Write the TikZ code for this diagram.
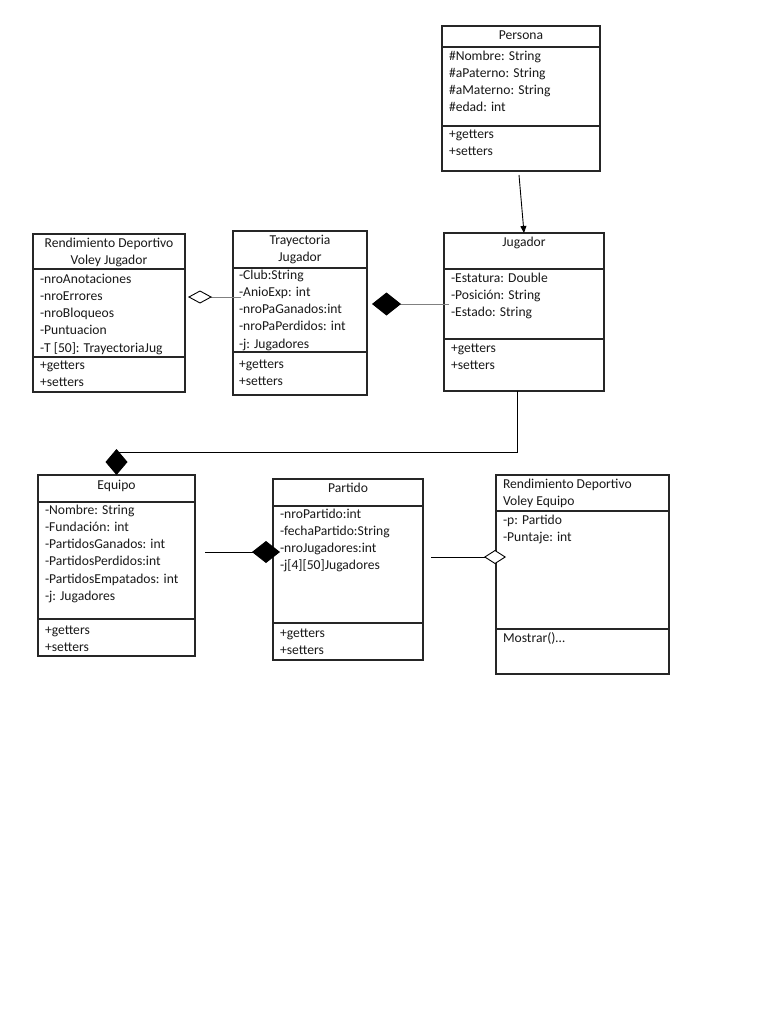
\documentclass[tikz,border=0pt]{standalone}
\usepackage{fontspec}
\setmainfont{Carlito}
\usetikzlibrary{arrows.meta}
\begin{document}
\begin{tikzpicture}[x=1pt,y=-1pt,
  umlbox/.style={draw=black!85, line width=1.1pt, inner sep=0pt, outer sep=0pt, anchor=north west},
  txt/.style={inner sep=0pt, outer sep=0pt, align=left, anchor=north west, font=\fontsize{13.6}{17.3}\selectfont, text=black!90},
  ttl/.style={txt, align=center, anchor=north},
  sepline/.style={draw=black!85, line width=1.1pt},
  conn/.style={draw=black, line width=0.9pt},
  gconn/.style={draw=black!50, line width=0.9pt},
  comp/.style={-{Diamond[color=black, fill=black, #1]}},
  aggr/.style={-{Diamond[open, color=black, fill=white, line width=0.9pt, #1]}},
]
\fill[white] (0,0) rectangle (768,1024);
\useasboundingbox (0,0) rectangle (768,1024);

% ---------- Persona ----------
\node[umlbox, minimum width=158pt, minimum height=145pt] (persona) at (442,26) {};
\draw[sepline] (442,47) -- (600,47);
\draw[sepline] (442,126) -- (600,126);
\node[ttl] (personaT) at (521,26.9) {\strut Persona};
\node[txt] (personaA) at (449,47.9) {\strut\#Nombre: String\\\#aPaterno: String\\\#aMaterno: String\\\#edad: int};
\node[txt] (personaM) at (449,125.9) {\strut+getters\\+setters};

% ---------- Jugador ----------
\node[umlbox, minimum width=160pt, minimum height=158pt] (jugador) at (444,233) {};
\draw[sepline] (444,269) -- (604,269);
\draw[sepline] (444,339) -- (604,339);
\node[ttl] (jugadorT) at (524,233.9) {\strut Jugador};
\node[txt] (jugadorA) at (451,269.9) {\strut-Estatura: Double\\-Posición: String\\-Estado: String};
\node[txt] (jugadorM) at (451,339.9) {\strut+getters\\+setters};

% ---------- Trayectoria Jugador ----------
\node[umlbox, minimum width=134pt, minimum height=164pt] (tray) at (233,231) {};
\draw[sepline] (233,268) -- (367,268);
\draw[sepline] (233,352) -- (367,352);
\node[ttl] (trayT) at (300,231.9) {\strut Trayectoria\\Jugador};
\node[txt] (trayA) at (239,266.9) {\strut-Club:String\\-AnioExp: int\\-nroPaGanados:int\\-nroPaPerdidos: int\\-j: Jugadores};
\node[txt] (trayM) at (239,355.9) {\strut+getters\\+setters};

% ---------- Rendimiento Deportivo Voley Jugador ----------
\node[umlbox, minimum width=152pt, minimum height=158pt] (rdvj) at (33,234) {};
\draw[sepline] (33,269) -- (185,269);
\draw[sepline] (33,357) -- (185,357);
\node[ttl] (rdvjT) at (109,234.9) {\strut Rendimiento Deportivo\\Voley Jugador};
\node[txt] (rdvjA) at (40,270.9) {\strut-nroAnotaciones\\-nroErrores\\-nroBloqueos\\-Puntuacion\\-T [50]: TrayectoriaJug};
\node[txt] (rdvjM) at (40,356.9) {\strut+getters\\+setters};

% ---------- Equipo ----------
\node[umlbox, minimum width=157pt, minimum height=181pt] (equipo) at (38,475) {};
\draw[sepline] (38,502) -- (195,502);
\draw[sepline] (38,619) -- (195,619);
\node[ttl] (equipoT) at (116.5,476.9) {\strut Equipo};
\node[txt] (equipoA) at (45,501.9) {\strut-Nombre: String\\-Fundación: int\\-PartidosGanados: int\\-PartidosPerdidos:int\\-PartidosEmpatados: int\\-j: Jugadores};
\node[txt] (equipoM) at (45,621.9) {\strut+getters\\+setters};

% ---------- Partido ----------
\node[umlbox, minimum width=150pt, minimum height=181pt] (partido) at (273,479) {};
\draw[sepline] (273,506) -- (423,506);
\draw[sepline] (273,623) -- (423,623);
\node[ttl] (partidoT) at (348,479.9) {\strut Partido};
\node[txt] (partidoA) at (280,505.9) {\strut-nroPartido:int\\-fechaPartido:String\\-nroJugadores:int\\-j[4][50]Jugadores};
\node[txt] (partidoM) at (280,624.9) {\strut+getters\\+setters};

% ---------- Rendimiento Deportivo Voley Equipo ----------
\node[umlbox, minimum width=173pt, minimum height=199pt] (rdve) at (496,475) {};
\draw[sepline] (496,511) -- (669,511);
\draw[sepline] (496,629) -- (669,629);
\node[txt] (rdveT) at (503,475.9) {\strut Rendimiento Deportivo\\Voley Equipo};
\node[txt] (rdveA) at (503,511.9) {\strut-p: Partido\\-Puntaje: int};
\node[txt] (rdveM) at (503,629.9) {\strut Mostrar()…};

% ---------- Connectors ----------
\coordinate (persDown) at (519,175);
\draw[conn, -{Triangle[length=7pt,width=6pt]}] (persDown) -- (jugador.north);

\coordinate (jugIn) at (449,304);
\coordinate (jugDia) at (372,304);
\draw[gconn, comp={length=29pt,width=23pt}] (jugIn) -- (jugDia);

\coordinate (trayIn) at (241,297);
\coordinate (trayDia) at (188,297);
\draw[gconn, aggr={length=24pt,width=13pt}] (trayIn) -- (trayDia);

\coordinate (jugDown) at (517,391);
\coordinate (eqBend) at (116.5,452);
\draw[conn, comp={length=26pt,width=22pt}] (jugDown) |- (eqBend) -- (equipo.north);

\coordinate (eqRight) at (205,552);
\coordinate (partDia) at (280,552);
\draw[conn, comp={length=28pt,width=22pt}] (eqRight) -- (partDia);

\coordinate (partRight) at (431,557);
\coordinate (rdveDia) at (506,557);
\draw[conn, aggr={length=22pt,width=14pt}] (partRight) -- (rdveDia);
\end{tikzpicture}
\end{document}
